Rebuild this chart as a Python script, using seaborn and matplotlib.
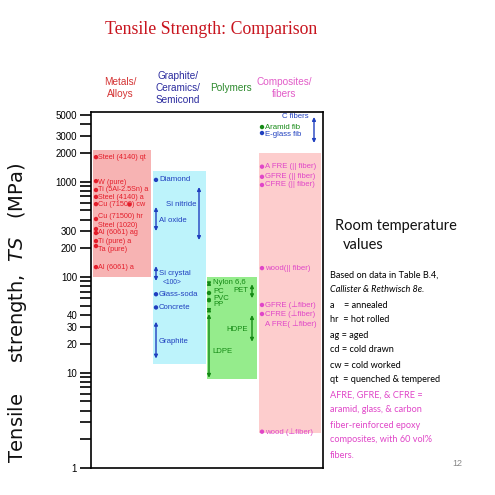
import numpy as np
import pandas as pd
import matplotlib
matplotlib.use("Agg")
import matplotlib.pyplot as plt
import seaborn as sns
from matplotlib.ticker import FixedLocator, FixedFormatter

sns.set_theme(style="white")
plt.rcParams["font.family"] = ["Liberation Sans Narrow", "Liberation Sans", "DejaVu Sans"]

# ------------------------------------------------------------------
# DATA  (tensile strength, MPa)
# ------------------------------------------------------------------
metal_names = ["Steel (4140) qt", "W (pure)", "Ti (5Al-2.5Sn) a", "Steel (4140) a",
               "Cu (71500) cw", "Cu (71500) hr", "Steel (1020)", "Al (6061) ag",
               "Ti (pure) a", "Ta (pure)", "Al (6061) a"]
metal_ts = [1800, 1010, 815, 690, 580, 405, 318, 289, 238, 211, 127]
# where each metal label sits (labels are nudged apart in the original)
metal_label_ts = [1806, 988, 834, 688, 568, 435, 350, 289, 238, 192, 127]

ceramic_dot_names = ["Diamond", "Glass-soda", "Concrete"]
ceramic_dot_ts = [1040, 66, 48]
ceramic_rng_names = ["Si nitride", "Al oxide", "Si crystal", "Graphite"]
ceramic_rng_lo = [244, 303, 91, 14]
ceramic_rng_hi = [875, 541, 130, 34]

polymer_dot_names = ["PC"]
polymer_dot_ts = [68]
polymer_rng_names = ["Nylon 6,6", "PVC", "PP", "LDPE", "PET", "HDPE"]
polymer_rng_lo = [80, 53, 42, 8.8, 60, 21]
polymer_rng_hi = [91, 62, 48, 41, 84, 40]

fiber_names = ["Aramid fib", "E-glass fib"]
fiber_ts = [3720, 3220]
cfiber_lo, cfiber_hi = 2535, 4740

composite_names = ["A FRE (|| fiber)", "GFRE (|| fiber)", "CFRE (|| fiber)", "wood(|| fiber)",
                   "GFRE (\u22a5fiber)", "CFRE (\u22a5fiber)", "wood (\u22a5fiber)"]
composite_ts = [1430, 1120, 920, 124, 51, 41, 2.4]
afre_perp_ts = 32   # label only

class_names = ["Metals/\nAlloys", "Graphite/\nCeramics/\nSemicond", "Polymers", "Composites/\nfibers"]
class_lo = [100, 12.4, 8.6, 2.3]
class_hi = [2120, 1300, 100, 2000]

tick_vals = [1, 10, 20, 30, 40, 100, 200, 300, 1000, 2000, 3000, 5000]

# ------------------------------------------------------------------
# LAYOUT / STYLE
# ------------------------------------------------------------------
band_x = [(2, 60), (62, 115), (116, 166), (168, 230)]
band_col = ["#f7b3b3", "#bdf3fb", "#95ec8c", "#fdcdcd"]
head_col = ["#d43333", "#2b2b9e", "#2e8a2e", "#e25cc8"]
head_x = [120, 178, 231, 284]
RED, BLUE, GREEN, MAG = "#e41e2b", "#1f3fbf", "#158a15", "#e046c8"
FS = 5.6

fig = plt.figure(figsize=(4.95, 4.95), dpi=100)
ax = fig.add_axes([91 / 495, 1 - 468 / 495, 232 / 495, 356 / 495])
ax.set_yscale("log")
ax.set_xlim(0, 232)
ax.set_ylim(1, 5345)

# material class bands
for (x0, x1), lo, hi, c in zip(band_x, class_lo, class_hi, band_col):
    ax.fill_between([x0, x1], lo, hi, color=c, lw=0, zorder=0)

# single-value markers
pts = pd.concat([
    pd.DataFrame({"x": 5, "ts": metal_ts, "grp": "metal"}),
    pd.DataFrame({"x": 65, "ts": ceramic_dot_ts, "grp": "ceramic"}),
    pd.DataFrame({"x": 118, "ts": polymer_dot_ts, "grp": "polymer"}),
    pd.DataFrame({"x": 171, "ts": [fiber_ts[0]], "grp": "polymer"}),
    pd.DataFrame({"x": 171, "ts": [fiber_ts[1]], "grp": "ceramic"}),
    pd.DataFrame({"x": 171, "ts": composite_ts, "grp": "composite"}),
], ignore_index=True)
sns.scatterplot(data=pts, x="x", y="ts", hue="grp", ax=ax, s=10, linewidth=0,
                palette={"metal": RED, "ceramic": BLUE, "polymer": GREEN, "composite": MAG},
                legend=False, zorder=3)
# extra dot inside the Cu cw label
ax.scatter([38], [metal_ts[4]], s=10, color=RED, lw=0, zorder=3)


def rng(x, lo, hi, c):
    ax.annotate("", xy=(x, hi), xytext=(x, lo),
                arrowprops=dict(arrowstyle="<|-|>", color=c, lw=1.0,
                                mutation_scale=5, shrinkA=0, shrinkB=0), zorder=3)


def lab(x, y, s, c, ha="left", fs=FS):
    ax.text(x, y, s, color=c, fontsize=fs, ha=ha, va="center", zorder=4)


# metals
for n, v in zip(metal_names, metal_label_ts):
    lab(7.5, v, n, RED, fs=5.2)

# ceramics
for n, v in zip(ceramic_dot_names, ceramic_dot_ts):
    lab(68, v, n, BLUE)
rng(108, ceramic_rng_lo[0], ceramic_rng_hi[0], BLUE)
for lo, hi in zip(ceramic_rng_lo[1:], ceramic_rng_hi[1:]):
    rng(65, lo, hi, BLUE)
lab(105, 581, ceramic_rng_names[0], BLUE, ha="right")
lab(68, 386, ceramic_rng_names[1], BLUE)
lab(68, 108, ceramic_rng_names[2], BLUE)
lab(72, 87, "<100>", BLUE, fs=4.8)
lab(68, 21, ceramic_rng_names[3], BLUE)

# polymers
for i in range(4):
    rng(118, polymer_rng_lo[i], polymer_rng_hi[i], GREEN)
for i in range(4, 6):
    rng(161, polymer_rng_lo[i], polymer_rng_hi[i], GREEN)
lab(122, 87, polymer_rng_names[0], GREEN)
lab(122, 70, polymer_dot_names[0], GREEN)
lab(122, 60, polymer_rng_names[1], GREEN)
lab(122, 51, polymer_rng_names[2], GREEN)
lab(121, 16.4, polymer_rng_names[3], GREEN)
lab(157, 73, polymer_rng_names[4], GREEN, ha="right")
lab(157, 28, polymer_rng_names[5], GREEN, ha="right")

# composites / fibers
rng(223, cfiber_lo, cfiber_hi, BLUE)
lab(218, cfiber_hi, "C fibers", BLUE, ha="right")
lab(174, fiber_ts[0], fiber_names[0], GREEN)
lab(174, 3070, fiber_names[1], BLUE)
for n, v in zip(composite_names, composite_ts):
    lab(174, v, n, MAG)
lab(174, afre_perp_ts, "A FRE( \u22a5fiber)", MAG)

# axis styling
ax.set_xticks([])
minor = [m * 10 ** k for k in range(4) for m in range(1, 10) if m * 10 ** k <= 5000]
ax.yaxis.set_major_locator(FixedLocator(minor))
ax.yaxis.set_minor_locator(FixedLocator([]))
ax.yaxis.set_major_formatter(FixedFormatter([str(v) if v in tick_vals else "" for v in minor]))
ax.tick_params(axis="y", which="major", direction="out", length=8, width=1.2,
               pad=2, labelsize=7, colors="black", left=True)
for t in ax.get_yticklabels():
    t.set_fontfamily(["Liberation Sans", "DejaVu Sans"])
for sp in ax.spines.values():
    sp.set_color("black")
    sp.set_linewidth(1.2)
ax.set_xlabel("")
ax.set_ylabel("")

# titles and headers
fig.text(211 / 495, 1 - 29 / 495, "Tensile Strength: Comparison", color="#c8141e",
         fontsize=12.8, family="Liberation Serif", ha="center", va="center")
head_y = [88, 88, 88, 88]
for n, x, y, c in zip(class_names, head_x, head_y, head_col):
    fig.text(x / 495, 1 - y / 495, n, color=c, fontsize=7.2, ha="center", va="center",
             linespacing=1.25)

fig.text(18 / 495, 1 - 313 / 495, "Tensile     strength,  $TS$   (MPa)", rotation=90,
         fontsize=14, family="DejaVu Sans", ha="center", va="center", color="#111111")

# notes on the right
fig.text(335 / 495, 1 - 226 / 495, "Room temperature", fontsize=10.5, family="Lato",
         color="#111111", va="center")
fig.text(343 / 495, 1 - 245 / 495, "values", fontsize=10.5, family="Lato",
         color="#111111", va="center")
notes = [("Based on data in Table B.4,", "black", "normal"),
         ("Callister & Rethwisch 8e.", "black", "italic"),
         ("a    = annealed", "black", "normal"),
         ("hr  = hot rolled", "black", "normal"),
         ("ag = aged", "black", "normal"),
         ("cd = cold drawn", "black", "normal"),
         ("cw = cold worked", "black", "normal"),
         ("qt  = quenched & tempered", "black", "normal"),
         ("AFRE, GFRE, & CFRE =", MAG, "normal"),
         ("aramid, glass, & carbon", MAG, "normal"),
         ("fiber-reinforced epoxy", MAG, "normal"),
         ("composites, with 60 vol%", MAG, "normal"),
         ("fibers.", MAG, "normal")]
for i, (s, c, st) in enumerate(notes):
    fig.text(330 / 495, 1 - (275 + 15 * i) / 495, s, fontsize=6.6, color=c, style=st,
             family=["Liberation Sans Narrow", "Lato"], va="center")
fig.text(452 / 495, 1 - 464 / 495, "12", fontsize=6.5, color="#888888", va="center")

plt.savefig("out.png", dpi=100)
plt.close()
